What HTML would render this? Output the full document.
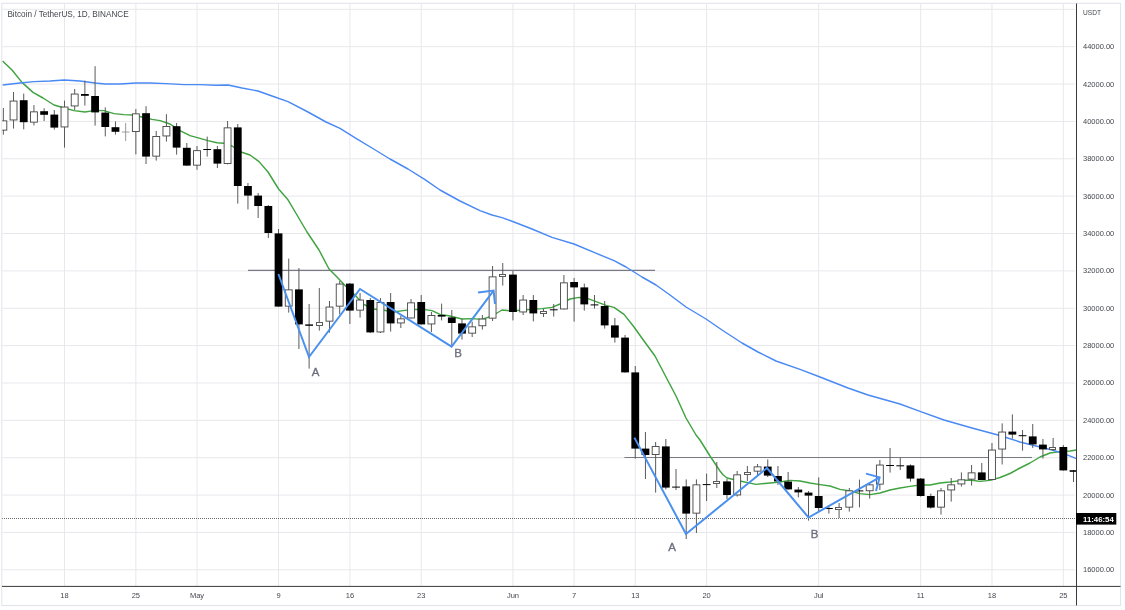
<!DOCTYPE html>
<html><head><meta charset="utf-8"><title>Bitcoin / TetherUS, 1D, BINANCE</title>
<style>
html,body{margin:0;padding:0;background:#fff;}
body{width:1125px;height:610px;overflow:hidden;position:relative;font-family:"Liberation Sans",sans-serif;}
svg{position:absolute;left:0;top:0;display:block}
svg text{font-family:"Liberation Sans",sans-serif;}
</style></head><body>
<svg width="1125" height="610" viewBox="0 0 1125 610">
<defs><clipPath id="plot"><rect x="2.2" y="3.8" width="1074" height="582.4"/></clipPath></defs>
<rect x="1.8" y="3.3" width="1118.8" height="602.2" fill="#fff" stroke="#e0e3eb" stroke-width="1"/>
<g stroke="#e8e8ec" stroke-width="1" clip-path="url(#plot)">
<line x1="2" x2="1075" y1="569.80" y2="569.80"/>
<line x1="2" x2="1075" y1="532.43" y2="532.43"/>
<line x1="2" x2="1075" y1="495.07" y2="495.07"/>
<line x1="2" x2="1075" y1="457.70" y2="457.70"/>
<line x1="2" x2="1075" y1="420.34" y2="420.34"/>
<line x1="2" x2="1075" y1="382.98" y2="382.98"/>
<line x1="2" x2="1075" y1="345.61" y2="345.61"/>
<line x1="2" x2="1075" y1="308.25" y2="308.25"/>
<line x1="2" x2="1075" y1="270.88" y2="270.88"/>
<line x1="2" x2="1075" y1="233.52" y2="233.52"/>
<line x1="2" x2="1075" y1="196.16" y2="196.16"/>
<line x1="2" x2="1075" y1="158.79" y2="158.79"/>
<line x1="2" x2="1075" y1="121.43" y2="121.43"/>
<line x1="2" x2="1075" y1="84.06" y2="84.06"/>
<line x1="2" x2="1075" y1="46.70" y2="46.70"/>
<line x1="2" x2="1075" y1="9.34" y2="9.34"/>
<line x1="64.50" x2="64.50" y1="3.5" y2="586"/>
<line x1="135.85" x2="135.85" y1="3.5" y2="586"/>
<line x1="197.00" x2="197.00" y1="3.5" y2="586"/>
<line x1="278.53" x2="278.53" y1="3.5" y2="586"/>
<line x1="349.88" x2="349.88" y1="3.5" y2="586"/>
<line x1="421.22" x2="421.22" y1="3.5" y2="586"/>
<line x1="512.95" x2="512.95" y1="3.5" y2="586"/>
<line x1="574.10" x2="574.10" y1="3.5" y2="586"/>
<line x1="635.25" x2="635.25" y1="3.5" y2="586"/>
<line x1="706.60" x2="706.60" y1="3.5" y2="586"/>
<line x1="818.71" x2="818.71" y1="3.5" y2="586"/>
<line x1="920.63" x2="920.63" y1="3.5" y2="586"/>
<line x1="991.97" x2="991.97" y1="3.5" y2="586"/>
<line x1="1063.32" x2="1063.32" y1="3.5" y2="586"/>
</g>
<g clip-path="url(#plot)">
<line x1="248" x2="655" y1="270.3" y2="270.3" stroke="#787a85" stroke-width="1.15"/>
<line x1="624.4" x2="1032" y1="457.5" y2="457.5" stroke="#787a85" stroke-width="1.15"/>
<line x1="2" x2="1076" y1="518.5" y2="518.5" stroke="#6a6a6a" stroke-width="1" stroke-dasharray="1 1"/>
<path d="M2.6 61.0 L12.0 70.0 L22.0 82.4 L33.0 92.4 L43.0 98.0 L54.0 105.0 L64.4 108.0 L74.0 110.6 L85.0 112.0 L95.0 110.4 L104.0 110.6 L114.0 113.6 L124.0 114.6 L133.0 115.0 L142.0 117.0 L152.0 119.4 L160.0 120.6 L170.0 124.0 L180.0 130.6 L190.0 135.6 L200.0 138.4 L208.0 140.6 L217.0 142.8 L224.0 143.2 L232.0 146.0 L241.0 152.0 L250.0 155.0 L259.0 161.6 L268.0 172.0 L278.6 189.0 L288.0 199.8 L297.0 215.0 L307.0 232.0 L319.0 250.0 L329.0 269.0 L337.0 277.0 L346.0 286.4 L355.0 295.0 L363.0 304.0 L373.0 309.0 L383.0 310.0 L393.0 312.0 L403.0 310.6 L413.0 309.4 L423.0 309.4 L432.0 310.6 L440.0 314.4 L450.0 316.0 L462.0 319.0 L472.0 318.6 L482.0 319.4 L492.0 316.0 L502.0 310.0 L512.0 311.0 L522.0 310.0 L532.0 309.4 L542.0 308.6 L552.0 307.4 L560.0 304.0 L570.0 299.0 L579.0 297.4 L588.0 298.6 L598.0 302.4 L606.0 305.4 L614.0 307.4 L624.0 314.4 L634.0 327.0 L644.0 341.0 L655.0 356.0 L666.0 377.0 L676.0 396.0 L686.0 418.0 L696.0 435.0 L700.0 440.0 L710.0 456.0 L720.0 471.0 L723.0 474.8 L727.0 478.0 L732.5 479.3 L740.0 481.0 L756.0 484.4 L770.0 483.0 L780.0 482.0 L790.0 480.4 L800.0 481.0 L810.0 483.0 L820.0 484.6 L830.0 486.0 L840.0 489.4 L850.0 491.0 L860.0 493.6 L870.0 494.6 L880.0 493.0 L890.0 490.0 L900.0 488.0 L910.0 486.4 L920.0 485.0 L930.0 485.0 L940.0 483.0 L950.0 482.0 L960.0 480.6 L970.0 480.0 L980.0 481.4 L990.0 480.4 L1000.0 477.5 L1010.0 473.5 L1020.0 468.0 L1030.0 463.0 L1040.0 457.0 L1050.0 453.0 L1060.0 451.6 L1070.0 451.0 L1076.4 450.0" fill="none" stroke="#3fa33f" stroke-width="1.45" stroke-linejoin="round"/>
<path d="M2.6 85.0 L20.0 83.0 L34.0 81.6 L50.0 81.0 L64.4 80.0 L80.0 81.0 L95.0 83.0 L105.0 84.0 L120.0 84.0 L136.0 83.0 L150.0 83.0 L166.0 83.6 L184.0 84.6 L200.0 84.6 L216.0 85.2 L228.0 85.0 L242.0 88.0 L258.0 91.0 L272.0 96.0 L288.0 101.6 L308.0 112.0 L326.0 122.0 L340.0 128.4 L356.0 138.4 L372.0 148.0 L390.0 159.0 L408.0 169.0 L425.0 179.6 L440.0 190.0 L460.0 201.0 L480.0 210.6 L492.0 215.0 L502.0 217.6 L514.0 222.0 L532.0 229.0 L552.0 237.4 L574.0 244.0 L594.0 252.4 L614.0 260.6 L626.0 267.0 L642.0 277.0 L656.0 285.0 L670.0 295.0 L686.0 307.0 L706.0 319.0 L722.0 330.0 L742.0 343.0 L758.0 352.0 L776.0 361.0 L800.0 369.4 L820.0 377.0 L848.0 388.0 L868.0 395.0 L900.0 404.0 L920.0 411.4 L944.0 420.0 L972.0 428.0 L998.0 435.0 L1020.0 442.0 L1040.0 447.0 L1052.0 450.0 L1064.0 453.6 L1076.4 458.6" fill="none" stroke="#4989f4" stroke-width="1.45" stroke-linejoin="round"/>
<g><line x1="3.35" x2="3.35" y1="108.0" y2="134.6" stroke="#5a5a5a" stroke-width="1"/><line x1="13.54" x2="13.54" y1="92.0" y2="128.6" stroke="#5a5a5a" stroke-width="1"/><line x1="23.73" x2="23.73" y1="93.6" y2="129.4" stroke="#5a5a5a" stroke-width="1"/><line x1="33.93" x2="33.93" y1="105.0" y2="125.4" stroke="#5a5a5a" stroke-width="1"/><line x1="44.12" x2="44.12" y1="108.2" y2="121.0" stroke="#5a5a5a" stroke-width="1"/><line x1="54.31" x2="54.31" y1="110.0" y2="129.6" stroke="#5a5a5a" stroke-width="1"/><line x1="64.50" x2="64.50" y1="100.6" y2="147.6" stroke="#5a5a5a" stroke-width="1"/><line x1="74.69" x2="74.69" y1="89.0" y2="110.0" stroke="#5a5a5a" stroke-width="1"/><line x1="84.89" x2="84.89" y1="80.6" y2="105.6" stroke="#5a5a5a" stroke-width="1"/><line x1="95.08" x2="95.08" y1="66.2" y2="125.6" stroke="#5a5a5a" stroke-width="1"/><line x1="105.27" x2="105.27" y1="107.4" y2="136.4" stroke="#5a5a5a" stroke-width="1"/><line x1="115.46" x2="115.46" y1="121.4" y2="134.6" stroke="#5a5a5a" stroke-width="1"/><line x1="125.65" x2="125.65" y1="123.0" y2="141.0" stroke="#9a9a9a" stroke-width="1"/><line x1="135.85" x2="135.85" y1="109.0" y2="154.4" stroke="#5a5a5a" stroke-width="1"/><line x1="146.04" x2="146.04" y1="106.2" y2="164.0" stroke="#5a5a5a" stroke-width="1"/><line x1="156.23" x2="156.23" y1="131.0" y2="160.6" stroke="#5a5a5a" stroke-width="1"/><line x1="166.42" x2="166.42" y1="114.2" y2="141.6" stroke="#5a5a5a" stroke-width="1"/><line x1="176.61" x2="176.61" y1="123.0" y2="154.6" stroke="#5a5a5a" stroke-width="1"/><line x1="186.81" x2="186.81" y1="143.0" y2="166.0" stroke="#5a5a5a" stroke-width="1"/><line x1="197.00" x2="197.00" y1="146.0" y2="169.8" stroke="#5a5a5a" stroke-width="1"/><line x1="207.19" x2="207.19" y1="136.6" y2="156.6" stroke="#5a5a5a" stroke-width="1"/><line x1="217.38" x2="217.38" y1="146.0" y2="168.0" stroke="#5a5a5a" stroke-width="1"/><line x1="227.57" x2="227.57" y1="121.0" y2="164.4" stroke="#5a5a5a" stroke-width="1"/><line x1="237.77" x2="237.77" y1="124.0" y2="203.6" stroke="#5a5a5a" stroke-width="1"/><line x1="247.96" x2="247.96" y1="183.0" y2="209.4" stroke="#5a5a5a" stroke-width="1"/><line x1="258.15" x2="258.15" y1="193.0" y2="218.0" stroke="#5a5a5a" stroke-width="1"/><line x1="268.34" x2="268.34" y1="205.0" y2="238.0" stroke="#5a5a5a" stroke-width="1"/><line x1="278.53" x2="278.53" y1="229.0" y2="306.6" stroke="#5a5a5a" stroke-width="1"/><line x1="288.73" x2="288.73" y1="258.6" y2="312.6" stroke="#5a5a5a" stroke-width="1"/><line x1="298.92" x2="298.92" y1="268.0" y2="349.0" stroke="#5a5a5a" stroke-width="1"/><line x1="309.11" x2="309.11" y1="304.0" y2="368.6" stroke="#5a5a5a" stroke-width="1"/><line x1="319.30" x2="319.30" y1="288.0" y2="330.6" stroke="#5a5a5a" stroke-width="1"/><line x1="329.49" x2="329.49" y1="301.0" y2="332.6" stroke="#5a5a5a" stroke-width="1"/><line x1="339.69" x2="339.69" y1="281.0" y2="314.4" stroke="#5a5a5a" stroke-width="1"/><line x1="349.88" x2="349.88" y1="283.0" y2="324.0" stroke="#5a5a5a" stroke-width="1"/><line x1="360.07" x2="360.07" y1="293.0" y2="317.6" stroke="#5a5a5a" stroke-width="1"/><line x1="370.26" x2="370.26" y1="298.0" y2="333.0" stroke="#5a5a5a" stroke-width="1"/><line x1="380.45" x2="380.45" y1="298.0" y2="333.0" stroke="#5a5a5a" stroke-width="1"/><line x1="390.65" x2="390.65" y1="293.0" y2="331.6" stroke="#5a5a5a" stroke-width="1"/><line x1="400.84" x2="400.84" y1="315.6" y2="328.0" stroke="#5a5a5a" stroke-width="1"/><line x1="411.03" x2="411.03" y1="299.0" y2="318.6" stroke="#5a5a5a" stroke-width="1"/><line x1="421.22" x2="421.22" y1="295.0" y2="324.6" stroke="#5a5a5a" stroke-width="1"/><line x1="431.41" x2="431.41" y1="312.0" y2="332.0" stroke="#5a5a5a" stroke-width="1"/><line x1="441.61" x2="441.61" y1="303.6" y2="320.4" stroke="#5a5a5a" stroke-width="1"/><line x1="451.80" x2="451.80" y1="310.0" y2="345.6" stroke="#5a5a5a" stroke-width="1"/><line x1="461.99" x2="461.99" y1="319.0" y2="339.6" stroke="#5a5a5a" stroke-width="1"/><line x1="472.18" x2="472.18" y1="321.6" y2="337.0" stroke="#5a5a5a" stroke-width="1"/><line x1="482.37" x2="482.37" y1="315.0" y2="329.6" stroke="#5a5a5a" stroke-width="1"/><line x1="492.57" x2="492.57" y1="266.0" y2="321.0" stroke="#5a5a5a" stroke-width="1"/><line x1="502.76" x2="502.76" y1="263.0" y2="285.6" stroke="#5a5a5a" stroke-width="1"/><line x1="512.95" x2="512.95" y1="271.0" y2="320.4" stroke="#5a5a5a" stroke-width="1"/><line x1="523.14" x2="523.14" y1="295.0" y2="315.0" stroke="#5a5a5a" stroke-width="1"/><line x1="533.33" x2="533.33" y1="295.0" y2="321.4" stroke="#5a5a5a" stroke-width="1"/><line x1="543.53" x2="543.53" y1="309.0" y2="317.0" stroke="#5a5a5a" stroke-width="1"/><line x1="553.72" x2="553.72" y1="304.0" y2="316.6" stroke="#5a5a5a" stroke-width="1"/><line x1="563.91" x2="563.91" y1="275.0" y2="309.6" stroke="#5a5a5a" stroke-width="1"/><line x1="574.10" x2="574.10" y1="278.0" y2="321.6" stroke="#5a5a5a" stroke-width="1"/><line x1="584.29" x2="584.29" y1="283.6" y2="310.6" stroke="#5a5a5a" stroke-width="1"/><line x1="594.49" x2="594.49" y1="295.0" y2="308.6" stroke="#5a5a5a" stroke-width="1"/><line x1="604.68" x2="604.68" y1="301.0" y2="328.6" stroke="#5a5a5a" stroke-width="1"/><line x1="614.87" x2="614.87" y1="318.0" y2="342.6" stroke="#5a5a5a" stroke-width="1"/><line x1="625.06" x2="625.06" y1="335.0" y2="372.6" stroke="#5a5a5a" stroke-width="1"/><line x1="635.25" x2="635.25" y1="366.0" y2="458.6" stroke="#5a5a5a" stroke-width="1"/><line x1="645.45" x2="645.45" y1="432.0" y2="479.0" stroke="#5a5a5a" stroke-width="1"/><line x1="655.64" x2="655.64" y1="442.0" y2="492.6" stroke="#5a5a5a" stroke-width="1"/><line x1="665.83" x2="665.83" y1="439.0" y2="489.4" stroke="#5a5a5a" stroke-width="1"/><line x1="676.02" x2="676.02" y1="469.0" y2="490.0" stroke="#5a5a5a" stroke-width="1"/><line x1="686.21" x2="686.21" y1="479.4" y2="539.0" stroke="#5a5a5a" stroke-width="1"/><line x1="696.41" x2="696.41" y1="479.4" y2="533.0" stroke="#5a5a5a" stroke-width="1"/><line x1="706.60" x2="706.60" y1="473.6" y2="501.0" stroke="#5a5a5a" stroke-width="1"/><line x1="716.79" x2="716.79" y1="462.0" y2="488.0" stroke="#5a5a5a" stroke-width="1"/><line x1="726.98" x2="726.98" y1="479.0" y2="499.0" stroke="#5a5a5a" stroke-width="1"/><line x1="737.17" x2="737.17" y1="471.0" y2="496.6" stroke="#5a5a5a" stroke-width="1"/><line x1="747.37" x2="747.37" y1="466.0" y2="481.0" stroke="#5a5a5a" stroke-width="1"/><line x1="757.56" x2="757.56" y1="464.0" y2="475.0" stroke="#5a5a5a" stroke-width="1"/><line x1="767.75" x2="767.75" y1="459.4" y2="477.0" stroke="#5a5a5a" stroke-width="1"/><line x1="777.94" x2="777.94" y1="466.0" y2="485.0" stroke="#5a5a5a" stroke-width="1"/><line x1="788.13" x2="788.13" y1="472.0" y2="489.6" stroke="#5a5a5a" stroke-width="1"/><line x1="798.33" x2="798.33" y1="487.0" y2="497.4" stroke="#5a5a5a" stroke-width="1"/><line x1="808.52" x2="808.52" y1="491.0" y2="520.6" stroke="#5a5a5a" stroke-width="1"/><line x1="818.71" x2="818.71" y1="477.4" y2="512.0" stroke="#5a5a5a" stroke-width="1"/><line x1="828.90" x2="828.90" y1="506.0" y2="513.6" stroke="#5a5a5a" stroke-width="1"/><line x1="839.09" x2="839.09" y1="503.0" y2="518.0" stroke="#5a5a5a" stroke-width="1"/><line x1="849.29" x2="849.29" y1="488.0" y2="511.6" stroke="#5a5a5a" stroke-width="1"/><line x1="859.48" x2="859.48" y1="479.6" y2="507.4" stroke="#5a5a5a" stroke-width="1"/><line x1="869.67" x2="869.67" y1="484.0" y2="498.6" stroke="#5a5a5a" stroke-width="1"/><line x1="879.86" x2="879.86" y1="460.0" y2="490.0" stroke="#5a5a5a" stroke-width="1"/><line x1="890.05" x2="890.05" y1="448.0" y2="472.6" stroke="#5a5a5a" stroke-width="1"/><line x1="900.25" x2="900.25" y1="457.6" y2="470.0" stroke="#5a5a5a" stroke-width="1"/><line x1="910.44" x2="910.44" y1="464.4" y2="481.6" stroke="#5a5a5a" stroke-width="1"/><line x1="920.63" x2="920.63" y1="478.0" y2="496.6" stroke="#5a5a5a" stroke-width="1"/><line x1="930.82" x2="930.82" y1="493.6" y2="508.6" stroke="#5a5a5a" stroke-width="1"/><line x1="941.01" x2="941.01" y1="488.0" y2="514.6" stroke="#5a5a5a" stroke-width="1"/><line x1="951.21" x2="951.21" y1="478.0" y2="501.6" stroke="#5a5a5a" stroke-width="1"/><line x1="961.40" x2="961.40" y1="472.4" y2="486.6" stroke="#5a5a5a" stroke-width="1"/><line x1="971.59" x2="971.59" y1="465.0" y2="485.6" stroke="#5a5a5a" stroke-width="1"/><line x1="981.78" x2="981.78" y1="463.0" y2="480.2" stroke="#5a5a5a" stroke-width="1"/><line x1="991.97" x2="991.97" y1="443.0" y2="480.2" stroke="#5a5a5a" stroke-width="1"/><line x1="1002.17" x2="1002.17" y1="423.4" y2="464.5" stroke="#5a5a5a" stroke-width="1"/><line x1="1012.36" x2="1012.36" y1="414.4" y2="438.6" stroke="#5a5a5a" stroke-width="1"/><line x1="1022.55" x2="1022.55" y1="430.0" y2="450.6" stroke="#5a5a5a" stroke-width="1"/><line x1="1032.74" x2="1032.74" y1="424.0" y2="448.0" stroke="#5a5a5a" stroke-width="1"/><line x1="1042.93" x2="1042.93" y1="439.0" y2="458.6" stroke="#5a5a5a" stroke-width="1"/><line x1="1053.13" x2="1053.13" y1="438.0" y2="451.0" stroke="#5a5a5a" stroke-width="1"/><line x1="1063.32" x2="1063.32" y1="445.0" y2="470.6" stroke="#5a5a5a" stroke-width="1"/><line x1="1073.51" x2="1073.51" y1="470.0" y2="482.0" stroke="#5a5a5a" stroke-width="1"/></g>
<g><rect x="-0.10" y="120.85" width="6.90" height="9.30" fill="#fff" stroke="#444" stroke-width="0.9"/><rect x="10.09" y="101.05" width="6.90" height="18.90" fill="#fff" stroke="#444" stroke-width="0.9"/><rect x="19.83" y="100.2" width="7.80" height="22.0" fill="#000"/><rect x="30.48" y="111.85" width="6.90" height="10.30" fill="#fff" stroke="#444" stroke-width="0.9"/><rect x="40.22" y="111.2" width="7.80" height="3.6" fill="#000"/><rect x="50.41" y="114.6" width="7.80" height="13.0" fill="#000"/><rect x="61.05" y="107.05" width="6.90" height="19.90" fill="#fff" stroke="#444" stroke-width="0.9"/><rect x="71.24" y="94.05" width="6.90" height="11.90" fill="#fff" stroke="#444" stroke-width="0.9"/><rect x="80.99" y="94.0" width="7.80" height="1.8" fill="#000"/><rect x="91.18" y="96.0" width="7.80" height="16.4" fill="#000"/><rect x="101.37" y="112.6" width="7.80" height="14.4" fill="#000"/><rect x="111.56" y="127.2" width="7.80" height="4.6" fill="#000"/><rect x="121.75" y="131.6" width="7.80" height="0.8" fill="#888"/><rect x="132.40" y="113.85" width="6.90" height="17.70" fill="#fff" stroke="#444" stroke-width="0.9"/><rect x="142.14" y="113.2" width="7.80" height="43.4" fill="#000"/><rect x="152.78" y="136.45" width="6.90" height="19.70" fill="#fff" stroke="#444" stroke-width="0.9"/><rect x="162.97" y="126.45" width="6.90" height="9.50" fill="#fff" stroke="#444" stroke-width="0.9"/><rect x="172.71" y="126.2" width="7.80" height="21.4" fill="#000"/><rect x="182.91" y="147.8" width="7.80" height="17.8" fill="#000"/><rect x="193.55" y="150.65" width="6.90" height="14.50" fill="#fff" stroke="#444" stroke-width="0.9"/><rect x="203.29" y="149.0" width="7.80" height="1.0" fill="#000"/><rect x="213.48" y="149.2" width="7.80" height="14.4" fill="#000"/><rect x="224.12" y="127.85" width="6.90" height="35.70" fill="#fff" stroke="#444" stroke-width="0.9"/><rect x="233.87" y="127.4" width="7.80" height="58.6" fill="#000"/><rect x="244.06" y="186.0" width="7.80" height="9.6" fill="#000"/><rect x="254.25" y="195.6" width="7.80" height="10.4" fill="#000"/><rect x="264.44" y="206.0" width="7.80" height="27.0" fill="#000"/><rect x="274.63" y="233.4" width="7.80" height="73.2" fill="#000"/><rect x="285.28" y="289.85" width="6.90" height="16.30" fill="#fff" stroke="#444" stroke-width="0.9"/><rect x="295.02" y="289.4" width="7.80" height="35.0" fill="#000"/><rect x="305.21" y="324.4" width="7.80" height="1.4" fill="#000"/><rect x="316" y="322" width="7" height="4" fill="#5a5a5a" shape-rendering="crispEdges"/><rect x="317" y="323" width="5" height="2" fill="#fff" shape-rendering="crispEdges"/><rect x="326.04" y="307.05" width="6.90" height="14.10" fill="#fff" stroke="#444" stroke-width="0.9"/><rect x="336.24" y="284.05" width="6.90" height="22.10" fill="#fff" stroke="#444" stroke-width="0.9"/><rect x="345.98" y="283.6" width="7.80" height="27.0" fill="#000"/><rect x="356.62" y="300.05" width="6.90" height="10.10" fill="#fff" stroke="#444" stroke-width="0.9"/><rect x="366.36" y="300.0" width="7.80" height="32.4" fill="#000"/><rect x="377.00" y="302.45" width="6.90" height="29.50" fill="#fff" stroke="#444" stroke-width="0.9"/><rect x="386.75" y="302.0" width="7.80" height="21.4" fill="#000"/><rect x="397.39" y="318.85" width="6.90" height="4.10" fill="#fff" stroke="#444" stroke-width="0.9"/><rect x="407.58" y="302.85" width="6.90" height="15.10" fill="#fff" stroke="#444" stroke-width="0.9"/><rect x="417.32" y="302.0" width="7.80" height="22.4" fill="#000"/><rect x="427.96" y="315.45" width="6.90" height="8.50" fill="#fff" stroke="#444" stroke-width="0.9"/><rect x="437.71" y="315.0" width="7.80" height="1.6" fill="#000"/><rect x="447.90" y="317.4" width="7.80" height="5.6" fill="#000"/><rect x="458.09" y="323.4" width="7.80" height="10.2" fill="#000"/><rect x="468.73" y="326.85" width="6.90" height="6.30" fill="#fff" stroke="#444" stroke-width="0.9"/><rect x="478.92" y="319.05" width="6.90" height="6.70" fill="#fff" stroke="#444" stroke-width="0.9"/><rect x="489.12" y="276.85" width="6.90" height="41.30" fill="#fff" stroke="#444" stroke-width="0.9"/><rect x="499" y="274" width="7" height="3" fill="#5a5a5a" shape-rendering="crispEdges"/><rect x="500" y="275" width="5" height="1" fill="#fff" shape-rendering="crispEdges"/><rect x="509.05" y="274.6" width="7.80" height="37.4" fill="#000"/><rect x="519.69" y="300.05" width="6.90" height="11.90" fill="#fff" stroke="#444" stroke-width="0.9"/><rect x="529.43" y="300.0" width="7.80" height="13.4" fill="#000"/><rect x="540" y="311" width="7" height="3" fill="#5a5a5a" shape-rendering="crispEdges"/><rect x="541" y="312" width="5" height="1" fill="#fff" shape-rendering="crispEdges"/><rect x="549.82" y="309.3" width="7.80" height="1.0" fill="#000"/><rect x="560.46" y="282.85" width="6.90" height="26.10" fill="#fff" stroke="#444" stroke-width="0.9"/><rect x="570.20" y="282.0" width="7.80" height="5.4" fill="#000"/><rect x="580.39" y="287.4" width="7.80" height="17.0" fill="#000"/><rect x="590.59" y="304.4" width="7.80" height="1.0" fill="#000"/><rect x="600.78" y="306.0" width="7.80" height="19.4" fill="#000"/><rect x="610.97" y="325.4" width="7.80" height="12.2" fill="#000"/><rect x="621.16" y="337.6" width="7.80" height="34.8" fill="#000"/><rect x="631.35" y="372.4" width="7.80" height="76.2" fill="#000"/><rect x="641.55" y="448.6" width="7.80" height="6.4" fill="#000"/><rect x="652.19" y="446.45" width="6.90" height="8.10" fill="#fff" stroke="#444" stroke-width="0.9"/><rect x="661.93" y="446.4" width="7.80" height="41.2" fill="#000"/><rect x="672.12" y="486.6" width="7.80" height="1.0" fill="#000"/><rect x="682.31" y="486.4" width="7.80" height="27.2" fill="#000"/><rect x="692.96" y="484.85" width="6.90" height="28.30" fill="#fff" stroke="#444" stroke-width="0.9"/><rect x="702.70" y="484.1" width="7.80" height="1.0" fill="#000"/><rect x="713" y="481" width="7" height="3" fill="#5a5a5a" shape-rendering="crispEdges"/><rect x="714" y="482" width="5" height="1" fill="#fff" shape-rendering="crispEdges"/><rect x="723.08" y="481.4" width="7.80" height="13.6" fill="#000"/><rect x="733.72" y="474.85" width="6.90" height="20.10" fill="#fff" stroke="#444" stroke-width="0.9"/><rect x="744" y="472" width="7" height="3" fill="#5a5a5a" shape-rendering="crispEdges"/><rect x="745" y="473" width="5" height="1" fill="#fff" shape-rendering="crispEdges"/><rect x="754.11" y="466.85" width="6.90" height="4.30" fill="#fff" stroke="#444" stroke-width="0.9"/><rect x="763.85" y="466.6" width="7.80" height="9.0" fill="#000"/><rect x="774.04" y="476.0" width="7.80" height="5.4" fill="#000"/><rect x="784.23" y="481.6" width="7.80" height="7.8" fill="#000"/><rect x="794.43" y="489.6" width="7.80" height="2.8" fill="#000"/><rect x="804.62" y="492.6" width="7.80" height="3.0" fill="#000"/><rect x="814.81" y="496.0" width="7.80" height="12.0" fill="#000"/><rect x="825.00" y="508.0" width="7.80" height="1.0" fill="#000"/><rect x="835" y="507" width="7" height="3" fill="#5a5a5a" shape-rendering="crispEdges"/><rect x="836" y="508" width="5" height="1" fill="#fff" shape-rendering="crispEdges"/><rect x="845.84" y="490.85" width="6.90" height="16.30" fill="#fff" stroke="#444" stroke-width="0.9"/><rect x="855.58" y="490.4" width="7.80" height="1.0" fill="#000"/><rect x="866.22" y="484.85" width="6.90" height="5.90" fill="#fff" stroke="#444" stroke-width="0.9"/><rect x="876.41" y="465.05" width="6.90" height="19.10" fill="#fff" stroke="#444" stroke-width="0.9"/><rect x="886.15" y="465.0" width="7.80" height="1.0" fill="#000"/><rect x="896.35" y="465.3" width="7.80" height="1.0" fill="#000"/><rect x="906.54" y="465.4" width="7.80" height="13.2" fill="#000"/><rect x="916.73" y="478.6" width="7.80" height="17.4" fill="#000"/><rect x="926.92" y="496.0" width="7.80" height="11.6" fill="#000"/><rect x="937.56" y="490.85" width="6.90" height="16.30" fill="#fff" stroke="#444" stroke-width="0.9"/><rect x="947.76" y="484.85" width="6.90" height="5.10" fill="#fff" stroke="#444" stroke-width="0.9"/><rect x="957.95" y="479.85" width="6.90" height="4.10" fill="#fff" stroke="#444" stroke-width="0.9"/><rect x="968.14" y="472.85" width="6.90" height="6.30" fill="#fff" stroke="#444" stroke-width="0.9"/><rect x="977.88" y="472.4" width="7.80" height="7.6" fill="#000"/><rect x="988.52" y="450.05" width="6.90" height="29.50" fill="#fff" stroke="#444" stroke-width="0.9"/><rect x="998.72" y="432.05" width="6.90" height="17.00" fill="#fff" stroke="#444" stroke-width="0.9"/><rect x="1008.46" y="431.6" width="7.80" height="3.0" fill="#000"/><rect x="1018.65" y="435.2" width="7.80" height="1.0" fill="#000"/><rect x="1028.84" y="436.4" width="7.80" height="8.0" fill="#000"/><rect x="1039.03" y="444.6" width="7.80" height="4.8" fill="#000"/><rect x="1049" y="447" width="7" height="3" fill="#5a5a5a" shape-rendering="crispEdges"/><rect x="1050" y="448" width="5" height="1" fill="#fff" shape-rendering="crispEdges"/><rect x="1059.42" y="447.0" width="7.80" height="23.4" fill="#000"/><rect x="1069.61" y="470.2" width="7.80" height="1.6" fill="#000"/></g>
<g fill="none" stroke="#4a90ee" stroke-width="2" stroke-linejoin="miter" stroke-linecap="butt">
<path d="M278.4 274 L309 357 L360 289 L451.6 346.6 L493.6 290.6"/>
<path d="M478 292.4 L493.6 290.6 L495 304"/>
<path d="M634.4 437.6 L686 534 L767 468 L808.5 517.5 L879.6 477.4"/>
<path d="M866 473.6 L879.6 477.4 L876 491"/>
</g>
<text x="315.5" y="376" font-size="11.5" fill="#6c6f7e" stroke="#6c6f7e" stroke-width="0.35" text-anchor="middle">A</text>
<text x="458" y="357.3" font-size="11.5" fill="#6c6f7e" stroke="#6c6f7e" stroke-width="0.35" text-anchor="middle">B</text>
<text x="672" y="551" font-size="11.5" fill="#6c6f7e" stroke="#6c6f7e" stroke-width="0.35" text-anchor="middle">A</text>
<text x="814.7" y="537.8" font-size="11.5" fill="#6c6f7e" stroke="#6c6f7e" stroke-width="0.35" text-anchor="middle">B</text>
</g>
<text x="7.4" y="17.1" font-size="9" fill="#45474f" textLength="121.3" lengthAdjust="spacingAndGlyphs">Bitcoin / TetherUS, 1D, BINANCE</text>
<line x1="1076.5" x2="1076.5" y1="3.5" y2="605.5" stroke="#3a3a3a" stroke-width="1"/>
<line x1="2" x2="1120.5" y1="586.4" y2="586.4" stroke="#3a3a3a" stroke-width="1"/>
<g font-size="7.5" fill="#45474f">
<text x="1083" y="15" font-size="6.6">USDT</text>
<text x="1083" y="572">16000.00</text>
<text x="1083" y="535">18000.00</text>
<text x="1083" y="498">20000.00</text>
<text x="1083" y="460">22000.00</text>
<text x="1083" y="423">24000.00</text>
<text x="1083" y="385">26000.00</text>
<text x="1083" y="348">28000.00</text>
<text x="1083" y="311">30000.00</text>
<text x="1083" y="273">32000.00</text>
<text x="1083" y="236">34000.00</text>
<text x="1083" y="199">36000.00</text>
<text x="1083" y="161">38000.00</text>
<text x="1083" y="124">40000.00</text>
<text x="1083" y="87">42000.00</text>
<text x="1083" y="49">44000.00</text>
</g>
<rect x="1076" y="513" width="40.3" height="11.6" fill="#000"/>
<text x="1083" y="521.8" font-size="7.8" font-weight="bold" fill="#fff">11:46:54</text>
<g font-size="7.5" fill="#45474f" text-anchor="middle">
<text x="64.5" y="598.2">18</text>
<text x="135.8" y="598.2">25</text>
<text x="197.0" y="598.2">May</text>
<text x="278.5" y="598.2">9</text>
<text x="349.9" y="598.2">16</text>
<text x="421.2" y="598.2">23</text>
<text x="513.0" y="598.2">Jun</text>
<text x="574.1" y="598.2">7</text>
<text x="635.3" y="598.2">13</text>
<text x="706.6" y="598.2">20</text>
<text x="818.7" y="598.2">Jul</text>
<text x="920.6" y="598.2">11</text>
<text x="992.0" y="598.2">18</text>
<text x="1063.3" y="598.2">25</text>
</g>
</svg></body></html>
